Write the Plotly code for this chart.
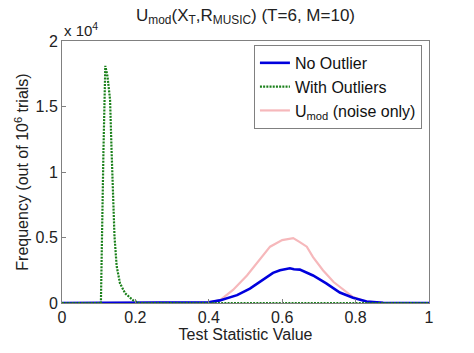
import plotly.graph_objects as go

# Data
green_x = [0.0, 0.104, 0.106, 0.113, 0.118, 0.124, 0.131, 0.135, 0.143, 0.149, 0.158, 0.172, 0.194, 0.21, 1.0]
green_y = [0, 0, 0, 11700, 18100, 17300, 15500, 11700, 5100, 2800, 1500, 740, 200, 0, 0]

blue_x = [0.0, 0.35, 0.40, 0.43, 0.477, 0.512, 0.548, 0.575, 0.594, 0.621, 0.632, 0.648, 0.684, 0.72, 0.757,
          0.793, 0.83, 0.875, 0.92, 1.0]
blue_y = [0, 0, 50, 200, 600, 1100, 1800, 2300, 2500, 2650, 2580, 2550, 2100, 1500, 800,
          400, 120, 20, 0, 0]

pink_x = [0.0, 0.35, 0.40, 0.43, 0.466, 0.504, 0.54, 0.567, 0.60, 0.63, 0.648, 0.667, 0.684, 0.711, 0.74,
          0.766, 0.793, 0.83, 0.875, 0.92, 1.0]
pink_y = [0, 0, 50, 200, 1000, 2100, 3400, 4300, 4800, 4950, 4650, 4300, 3500, 2500, 1600,
          1000, 450, 100, 15, 0, 0]

y_ticks = [0, 5000, 10000, 15000, 20000]
y_tick_labels = ["0", "0.5", "1", "1.5", "2"]
x_ticks = [0, 0.2, 0.4, 0.6, 0.8, 1]
x_tick_labels = ["0", "0.2", "0.4", "0.6", "0.8", "1"]

FONT = "Liberation Sans, Arial, Helvetica, sans-serif"

fig = go.Figure()
fig.add_trace(go.Scatter(x=pink_x, y=pink_y, mode="lines", name="U<sub>mod</sub> (noise only)",
                         legendrank=3, line=dict(color="#f6b8bb", width=2.2)))
fig.add_trace(go.Scatter(x=blue_x, y=blue_y, mode="lines", name="No Outlier",
                         legendrank=1, line=dict(color="#0000dd", width=2.6)))
fig.add_trace(go.Scatter(x=green_x, y=green_y, mode="lines", name="With Outliers",
                         legendrank=2, line=dict(color="#1a801a", width=2.2, dash="2px,1.2px")))

axis_common = dict(showline=True, linecolor="#808080", linewidth=1, mirror=True,
                   ticks="inside", ticklen=4, tickcolor="#808080",
                   showgrid=False, zeroline=False,
                   tickfont=dict(family=FONT, size=16, color="#222"))

fig.update_layout(
    width=474, height=353,
    margin=dict(l=62, r=45, t=41, b=50),
    paper_bgcolor="white", plot_bgcolor="white",
    font=dict(family=FONT, size=16, color="#222"),
    showlegend=True,
    legend=dict(x=0.523, y=0.985, xanchor="left", yanchor="top",
                bordercolor="#808080", borderwidth=1, bgcolor="white",
                font=dict(family=FONT, size=16, color="#111"),
                tracegroupgap=0, itemwidth=30),
    title=dict(text="U<sub>mod</sub>(X<sub>T</sub>,R<sub>MUSIC</sub>) (T=6, M=10)",
               x=0.518, xanchor="center", y=0.975, yanchor="top",
               font=dict(family=FONT, size=17, color="#222")),
    xaxis=dict(range=[0, 1], tickvals=x_ticks, ticktext=x_tick_labels,
               title=dict(text="Test Statistic Value", standoff=3,
                          font=dict(family=FONT, size=16, color="#222")),
               **axis_common),
    yaxis=dict(range=[0, 20000], tickvals=y_ticks, ticktext=y_tick_labels,
               title=dict(text="Frequency (out of 10<sup>6</sup> trials)", standoff=2,
                          font=dict(family=FONT, size=16, color="#222")),
               **axis_common),
    annotations=[dict(text="x 10<sup>4</sup>", xref="paper", yref="paper", x=0.0, y=1.0,
                      xanchor="left", yanchor="bottom", showarrow=False,
                      font=dict(family=FONT, size=15, color="#222"))],
)

fig.write_html("out.html")
